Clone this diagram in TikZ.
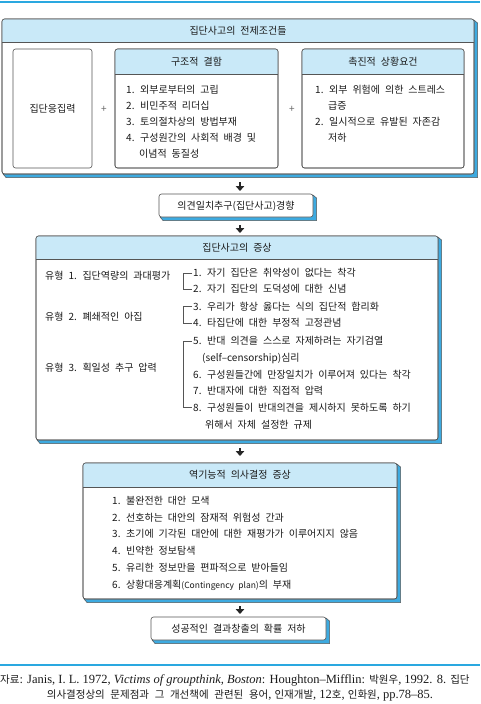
\documentclass[tikz,border=0pt]{standalone}
\usepackage{fontspec}
\setmainfont{Noto Sans CJK KR}[WordSpace=2.2]
\newfontfamily\lserif{Liberation Serif}
\newfontfamily\krf{Noto Sans CJK KR}[WordSpace=2.4]
\usetikzlibrary{arrows.meta,backgrounds,calc}
\definecolor{hdr}{HTML}{C9E9F8}
\definecolor{shd}{HTML}{3DAAE0}
\definecolor{edge}{HTML}{555555}
\definecolor{rulec}{HTML}{2AA8E0}
\definecolor{txt}{HTML}{1A1A1A}
\newcommand\hdrfill[2]{%
  \begin{scope}
    \clip[rounded corners=2.5pt] (#1.north west) rectangle (#1.south east);
    \fill[hdr] (#1.north west) rectangle ([yshift=-#2pt]#1.north east);
  \end{scope}
  \draw[edge, line width=.6pt] ([yshift=-#2pt]#1.north west) -- ([yshift=-#2pt]#1.north east);
  \draw[edge, line width=.6pt, rounded corners=2.5pt] (#1.north west) rectangle (#1.south east);
}
\newcommand\extr[1]{%
  \begin{scope}[on background layer]
    \filldraw[fill=shd, draw=edge, line width=.5pt, line join=round]
      ([yshift=-1pt]#1.north east) -- ([shift={(3.5pt,-4pt)}]#1.north east)
      -- ([shift={(3.5pt,-3.5pt)}]#1.south east) -- ([shift={(4pt,-3.5pt)}]#1.south west)
      -- ([xshift=1pt]#1.south west) -- cycle;
  \end{scope}}
\begin{document}
\begin{tikzpicture}[x=1pt,y=-1pt, font=\fontsize{10}{12}\selectfont, text=txt,
  box/.style={draw=edge, line width=.6pt, fill=white, rounded corners=2.5pt, inner sep=0, outer sep=0, anchor=north west},
  ln/.style={anchor=west, inner sep=0, text height=8pt, text depth=1pt},
  ttl/.style={inner sep=0, text height=8pt, text depth=1pt},
  bigarr/.style={draw=black!85, line width=2.2pt, -{Triangle[length=5pt,width=8.5pt]}},
  brk/.style={draw=edge, line width=.6pt}]
\useasboundingbox (0,0) rectangle (480,704);
\coordinate (ax) at (240,0);
\draw[rulec, line width=1.2pt] (0,2) -- (480,2);
\draw[rulec, line width=1.6pt] (0,665) -- (480,665);

% box A
\node[box, minimum width=472pt, minimum height=155pt] (A) at (2,19) {};
\extr{A}
\hdrfill{A}{23}
\node[ttl] (At) at (238,30.5) {집단사고의 전제조건들};
\node[box, minimum width=79pt, minimum height=119pt] (A1) at (13,49) {};
\node[ttl] (A1t) at (A1.center) {집단응집력};
\node[ttl, text=black!60] (p1) at (104,109) {+};
\node[box, minimum width=163pt, minimum height=119pt] (A2) at (115,49) {};
\hdrfill{A2}{25}
\node[ttl] (A2t) at (196.5,61.5) {구조적 결함};
\node[ln] (a21) at (126,90) {1. 외부로부터의 고립};
\node[ln] (a22) at (126,106) {2. 비민주적 리더십};
\node[ln] (a23) at (126,122) {3. 토의절차상의 방법부재};
\node[ln] (a24) at (126,138) {4. 구성원간의 사회적 배경 및};
\node[ln] (a25) at (139,154) {이념적 동질성};
\node[ttl, text=black!60] (p2) at (292,109) {+};
\node[box, minimum width=162pt, minimum height=119pt] (A3) at (302,49) {};
\hdrfill{A3}{25}
\node[ttl] (A3t) at (383,61.5) {촉진적 상황요건};
\node[ln] (a31) at (315,90) {1. 외부 위험에 의한 스트레스};
\node[ln] (a32) at (328,106) {급증};
\node[ln] (a33) at (315,122) {2. 일시적으로 유발된 자존감};
\node[ln] (a34) at (328,138) {저하};

% box B
\node[box, minimum width=154pt, minimum height=23pt] (B) at (159,194) {};
\extr{B}
\node[ttl] (Bt) at (B.center) {의견일치추구(집단사고)경향};

% box C
\node[box, minimum width=402pt, minimum height=204pt] (C) at (36,236) {};
\extr{C}
\hdrfill{C}{23}
\node[ttl] (Ct) at (237,247.5) {집단사고의 증상};
\node[ln] (t1) at (45,276) {유형 1. 집단역량의 과대평가};
\node[ln] (t2) at (45,317) {유형 2. 폐쇄적인 아집};
\node[ln] (t3) at (45,368) {유형 3. 획일성 추구 압력};
\node[ln] (c1) at (193,273.3) {1. 자기 집단은 취약성이 없다는 착각};
\node[ln] (c2) at (193,289.3) {2. 자기 집단의 도덕성에 대한 신념};
\node[ln] (c3) at (193,306.7) {3. 우리가 항상 옳다는 식의 집단적 합리화};
\node[ln] (c4) at (193,323.3) {4. 타집단에 대한 부정적 고정관념};
\node[ln] (c5) at (193,341) {5. 반대 의견을 스스로 자제하려는 자기검열};
\node[ln] (c5b) at (202,357.7) {(self–censorship)심리};
\node[ln] (c6) at (193,375) {6. 구성원들간에 만장일치가 이루어져 있다는 착각};
\node[ln] (c7) at (193,391) {7. 반대자에 대한 직접적 압력};
\node[ln] (c8) at (193,407.7) {8. 구성원들이 반대의견을 제시하지 못하도록 하기};
\node[ln] (c8b) at (205,425) {위해서 자체 설정한 규제};
\draw[brk] ([xshift=-1pt]c1.west) -- ++(-9,0) |- ([xshift=-1pt]c2.west);
\draw[brk] ([xshift=-1pt]c3.west) -- ++(-9,0) |- ([xshift=-1pt]c4.west);
\draw[brk] ([xshift=-1pt]c5.west) -- ++(-9,0) |- ([xshift=-1pt]c8.west);

% box D
\node[box, minimum width=314pt, minimum height=136pt] (D) at (83,463) {};
\extr{D}
\hdrfill{D}{24}
\node[ttl] (Dt) at (240,475) {역기능적 의사결정 증상};
\node[ln] (d1) at (112,501) {1. 불완전한 대안 모색};
\node[ln] (d2) at (112,518) {2. 선호하는 대안의 잠재적 위험성 간과};
\node[ln] (d3) at (112,534) {3. 초기에 기각된 대안에 대한 재평가가 이루어지지 않음};
\node[ln] (d4) at (112,551) {4. 빈약한 정보탐색};
\node[ln] (d5) at (112,568) {5. 유리한 정보만을 편파적으로 받아들임};
\node[ln] (d6) at (112,585) {6. 상황대응계획{\fontsize{8.5}{10}\selectfont(Contingency plan)}의 부재};

% box E
\node[box, minimum width=175pt, minimum height=23pt] (E) at (151,617) {};
\extr{E}
\node[ttl] (Et) at (E.center) {성공적인 결과창출의 확률 저하};

% arrows
\draw[bigarr, shorten <=8pt, shorten >=3pt] (A.south -| ax) -- (B.north -| ax);
\draw[bigarr, shorten <=8pt, shorten >=3pt] (B.south -| ax) -- (C.north -| ax);
\draw[bigarr, shorten <=8pt, shorten >=7pt] (C.south -| ax) -- (D.north -| ax);
\draw[bigarr, shorten <=7pt, shorten >=3pt] (D.south -| ax) -- (E.north -| ax);

% citation
\node[anchor=west, inner sep=0, font=\lserif\fontsize{12.5}{14}\selectfont] (cit1) at (0,680)
  {{\krf\fontsize{10.5}{14}\selectfont 자료}: Janis, I. L. 1972, \textit{Victims of groupthink, Boston}: Houghton–Mifflin: {\krf\fontsize{10.5}{14}\selectfont 박원우}, 1992. 8. {\krf\fontsize{10.5}{14}\selectfont 집단}};
\node[inner sep=0, font=\lserif\fontsize{12.5}{14}\selectfont] (cit2) at (240,695)
  {{\krf\fontsize{10.5}{14}\selectfont 의사결정상의 문제점과 그 개선책에 관련된 용어}, {\krf\fontsize{10.5}{14}\selectfont 인재개발}, 12{\krf\fontsize{10.5}{14}\selectfont 호}, {\krf\fontsize{10.5}{14}\selectfont 인화원}, pp.78–85.};
\end{tikzpicture}
\end{document}
